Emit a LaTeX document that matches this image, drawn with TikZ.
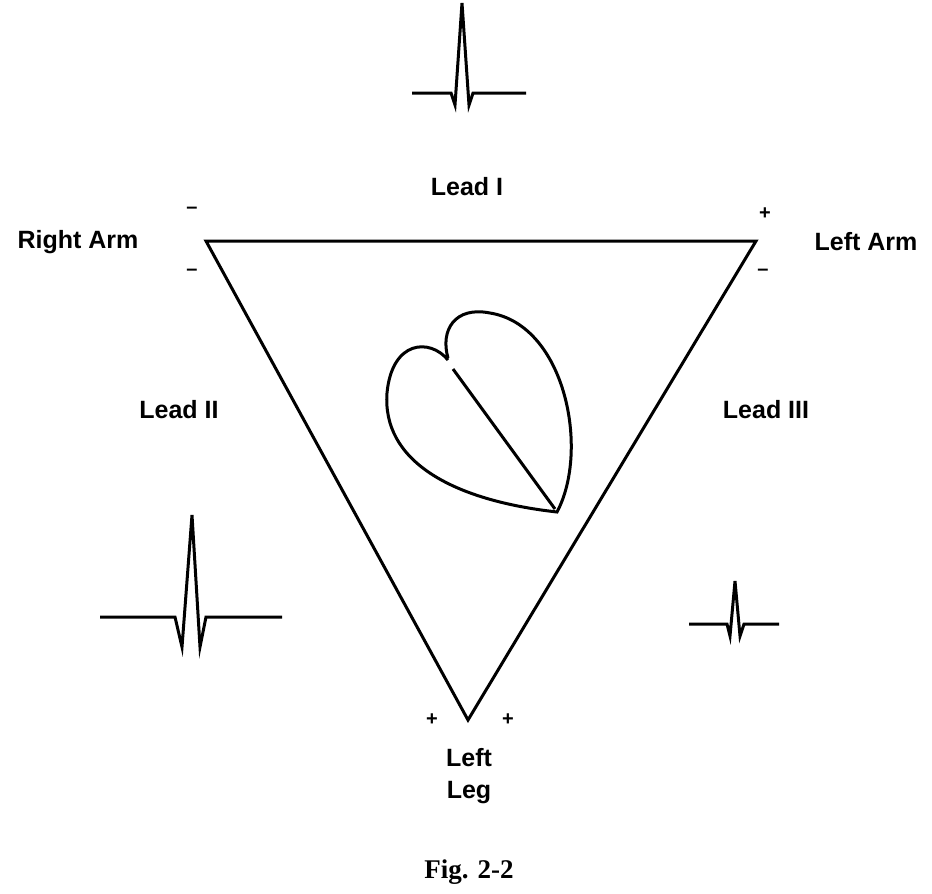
\documentclass[tikz,border=0pt]{standalone}
\usepackage{fontspec}
\setmainfont{Liberation Sans}
\newfontfamily\figfont{Liberation Serif}
\begin{document}
\begin{tikzpicture}[x=1pt,y=-1pt,line width=3pt,line join=miter,
  lbl/.style={font=\fontsize{25}{28}\selectfont\bfseries,inner sep=0pt},
  sgn/.style={font=\fontsize{20}{22}\selectfont\bfseries,inner sep=0pt}]
\useasboundingbox (0,0) rectangle (932,894);
\coordinate (RA) at (206,241);
\coordinate (LA) at (756,241);
\coordinate (LL) at (468,720);
\draw (RA) -- (LA) -- (LL) -- cycle;
% heart
\draw (448,360) .. controls (430,338) and (392,340) .. (387,393)
  .. controls (382,460) and (450,500) .. (557,512)
  .. controls (590,450) and (565,325) .. (490,313)
  .. controls (455,306) and (440,330) .. (448,358);
\coordinate (h1) at (453,369); \coordinate (h2) at (555,509);
\draw (h1) -- (h2);
% complexes
\draw (412,93) -- (451,93) -- (455,105) -- (462,3) -- (469,105) -- (473,93) -- (526,93);
\draw (100,617) -- (175,617) -- (182,647) -- (192,515) -- (200,647) -- (206,617) -- (282,617);
\draw (689,624) -- (727,624) -- (730,636) -- (735,581) -- (740,636) -- (744,624) -- (779,624);
% labels
\node[lbl] (l1) at (467,187) {Lead I};
\node[lbl] (ra) at (78,242) {Right Arm};
\node[lbl] (la) at (866,242) {Left Arm};
\node[lbl] (l2) at (179,410) {Lead II};
\node[lbl] (l3) at (766,410) {Lead III};
\node[lbl,align=center] (ll) at (469,776) {Left\\[4pt]Leg};
\node[inner sep=0pt,font=\figfont\fontsize{27}{30}\selectfont\bfseries] (fig) at (469,872) {Fig. 2-2};
\node[sgn] (m1) at (192,210) {–};
\node[sgn] (m2) at (192,272) {–};
\node[sgn] (m3) at (763,272) {–};
\node[sgn] (p1) at (765,214) {+};
\node[sgn] (p2) at (432,720) {+};
\node[sgn] (p3) at (508,720) {+};
\end{tikzpicture}
\end{document}
